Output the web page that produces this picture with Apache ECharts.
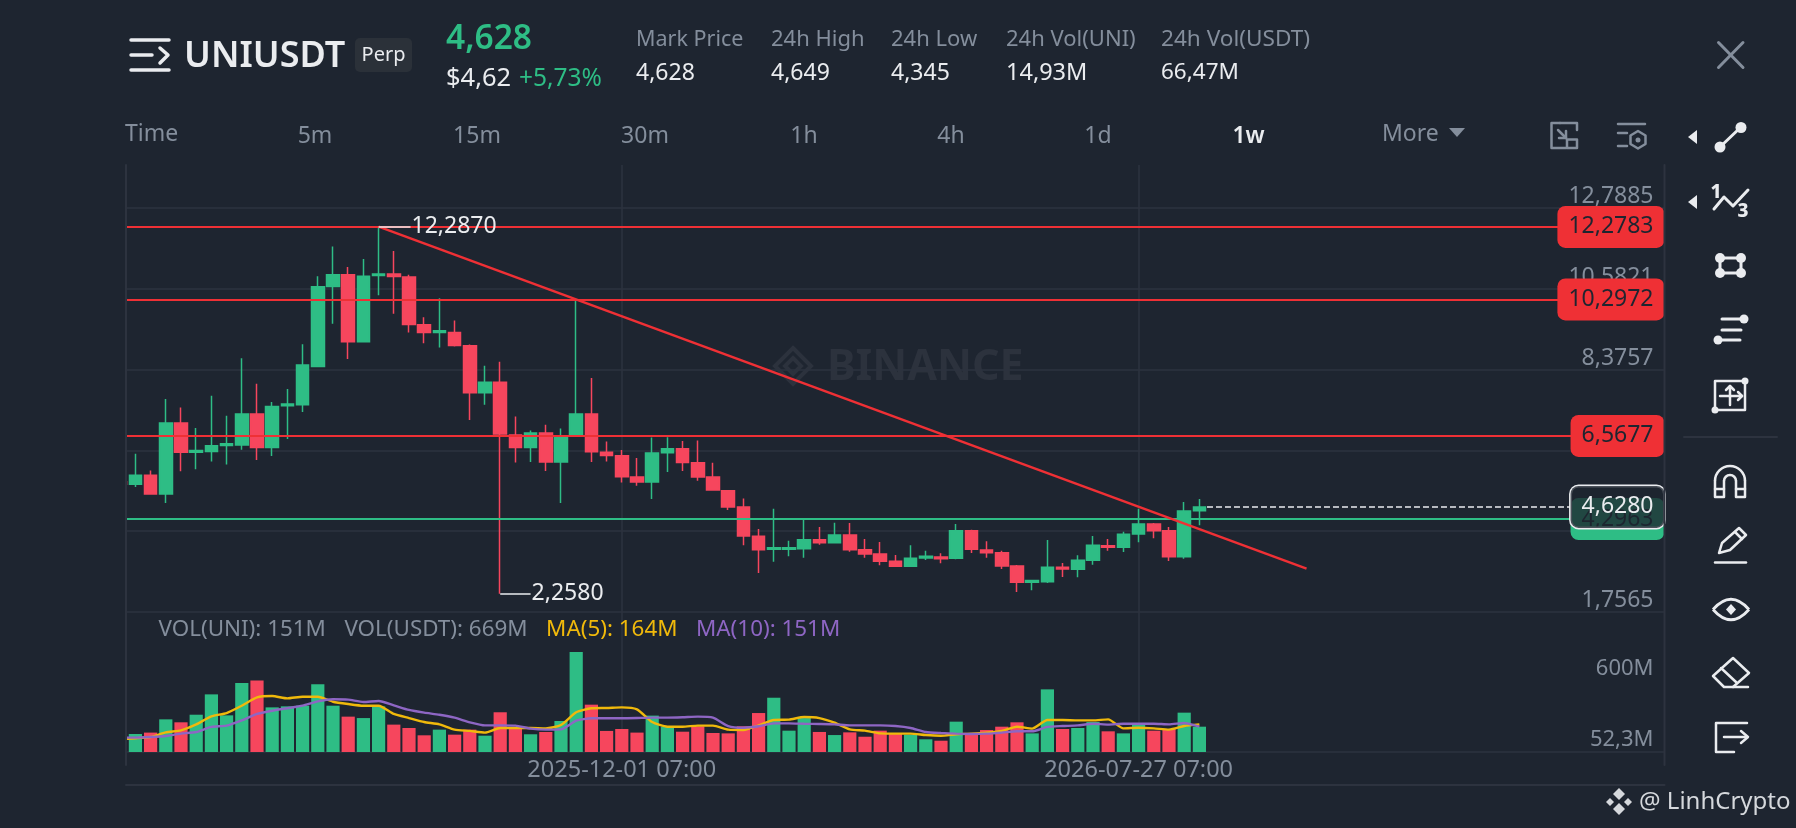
<!DOCTYPE html>
<html><head><meta charset="utf-8">
<script src="https://cdn.jsdelivr.net/npm/echarts@6/dist/echarts.min.js"></script>
<style>html,body{margin:0;padding:0;background:#1e2530;overflow:hidden}#c{width:1796px;height:828px}</style>
</head><body><div id="c"></div>
<script>
const FONT='"Noto Sans"';
const GREEN='#2ebd85', RED='#f6465d', LINE_RED='#ef3035', GRID='#2d333f', GRAY='#848e9c', WHITE='#eaecef', BG='#1e2530';

// Weekly candles, in order; weeks 33 and 67 are labelled on the axis
const opens=[5.317,5.245,5.490,4.980,6.919,6.118,6.145,6.309,6.318,7.164,6.254,7.392,7.419,8.466,10.649,10.968,9.139,10.949,10.995,10.913,9.603,9.393,9.393,9.030,7.747,8.037,6.590,6.254,6.645,5.853,6.581,7.164,6.118,6.027,5.444,5.307,6.108,6.217,5.835,5.444,5.071,4.625,3.824,3.469,3.469,3.487,3.733,3.651,3.861,3.460,3.342,3.141,3.005,3.232,3.260,3.223,3.979,3.451,3.378,3.014,2.568,2.586,2.978,2.923,3.169,3.569,3.524,3.888,4.161,3.979,3.269,4.525];
const closes=[5.245,5.490,4.980,6.919,6.118,6.172,6.300,6.355,7.164,6.254,7.374,7.437,8.502,10.640,10.968,9.139,10.931,10.995,10.922,9.612,9.393,9.439,9.039,7.747,8.037,6.618,6.254,6.645,5.853,6.536,7.164,6.136,6.036,5.453,5.307,6.099,6.217,5.844,5.444,5.089,4.625,3.833,3.460,3.515,3.515,3.733,3.651,3.861,3.460,3.342,3.141,3.005,3.223,3.278,3.214,3.979,3.469,3.378,3.014,2.568,2.614,2.978,2.932,3.169,3.578,3.524,3.879,4.161,3.979,3.269,4.516,4.628];
const lows=[5.245,5.172,4.962,4.735,5.599,5.654,5.872,5.790,6.191,5.908,6.018,6.482,7.219,8.466,9.630,8.666,9.120,10.413,9.903,9.393,9.102,8.984,9.012,7.000,7.419,2.258,5.844,5.853,5.608,4.734,6.581,5.853,5.872,5.298,5.207,4.843,5.580,5.608,5.344,5.071,4.543,3.578,2.823,3.132,3.278,3.242,3.596,3.651,3.405,3.242,3.032,2.996,2.996,3.178,3.087,3.196,3.369,3.242,2.932,2.304,2.350,2.550,2.714,2.705,3.050,3.433,3.396,3.660,3.769,3.151,3.214,4.124];
const highs=[5.317,6.082,5.626,7.574,7.346,6.782,7.665,7.119,8.693,7.992,7.492,7.847,9.075,10.931,11.741,11.186,11.404,12.287,11.623,10.968,9.812,10.331,9.721,9.066,8.484,8.592,7.100,6.718,6.873,6.772,10.285,8.147,6.417,6.181,5.963,6.527,6.530,6.430,6.444,5.835,5.089,4.861,4.024,4.579,3.706,4.288,4.079,4.197,4.188,3.751,3.669,3.314,3.578,3.433,3.360,4.161,4.006,3.687,3.433,3.041,2.614,3.724,3.096,3.305,3.833,3.751,3.951,4.579,4.188,4.079,4.761,4.843];

const volumes=[122,192,203,306,283,342,500,337,588,607,399,407,412,578,412,327,316,407,265,239,182,226,187,226,179,361,231,190,208,293,829,420,216,231,203,335,249,210,252,200,197,252,355,474,218,316,208,184,205,171,218,195,187,151,140,288,195,223,249,283,197,539,231,239,285,213,197,267,218,231,358,249];
const ma5=[153,159,169,205,221,267,329,355,412,477,487,469,482,482,443,425,412,412,348,316,285,267,226,216,203,239,239,239,236,262,361,392,394,399,384,285,249,249,257,257,226,223,259,301,304,324,316,280,228,218,197,195,195,184,179,190,195,203,216,249,234,301,301,298,298,306,236,241,236,226,254,267];
const ma10=[164,164,169,177,195,208,247,257,298,348,373,392,412,446,462,459,441,449,415,379,358,342,319,283,259,259,257,234,226,228,296,314,314,314,316,319,319,322,327,319,254,241,252,275,275,272,270,267,259,259,259,254,239,208,200,195,192,195,203,213,213,247,254,259,272,265,272,272,272,267,278,249];

const priceTicks=[1.7565,3.9629,6.1693,8.3757,10.5821,12.7885];
const volumeTicks=[52.3,600];
const volumeTickLabels=['52,3M','600M'];
const timeTicks=[33,67];
const timeTickLabels=['2025-12-01 07:00','2026-07-27 07:00'];

const redLevels=[12.2783,10.2972,6.5677];
const greenLevel=4.2963;
const lastPrice=4.628;
const peak={week:17,price:12.287,labelWeek:19.1};
const trough={week:25,price:2.258,labelWeek:27};
const trend=[[17,12.287],[78.05,2.942]];

const X_MIN=0.3816, X_MAX=101.6, Y_MIN=1.7565, Y_MAX=13.97, V_MIN=52.3, V_MAX=1140;
const comma=v=>v.toFixed(4).replace('.',',');
const candles=opens.map((o,i)=>[i,o,closes[i],lows[i],highs[i]]);
const barData=volumes.map((v,i)=>({value:[i,v],itemStyle:{color:closes[i]>=opens[i]?GREEN:RED}}));
const tag=(bg,color,extra)=>Object.assign({show:true,position:'insideEnd',distance:0,backgroundColor:bg,color,fontFamily:FONT,fontSize:23,lineHeight:22,padding:[11,11,9,11],borderRadius:8},extra||{});
const hLine=(p,color,text,bg)=>[{coord:[X_MIN,p],lineStyle:{color,width:2,type:'solid'},label:tag(bg,'#1e2530',{formatter:text})},{coord:[X_MAX,p]}];

// chrome helpers
const T=(x,y,text,size,fill,o)=>({type:'text',silent:true,z:o&&o.z!=null?o.z:5,style:{x,y,text,fill,font:`${o&&o.w||400} ${size}px ${FONT}`,textAlign:o&&o.a||'left',textVerticalAlign:'middle'}});
// small icon outlines: "M x y L x y ... [Z]" sub-paths become polylines / polygons
const P=(d,stroke,w,fill)=>{
  const out=[];
  d.split('M').filter(s=>s.trim()).forEach(sub=>{
    const closed=/Z/.test(sub);
    const toks=sub.replace('Z','').match(/[HVL]|-?[\d.]+/g);
    const pts=[];let i=0,cx,cy;
    cx=+toks[i++];cy=+toks[i++];pts.push([cx,cy]);
    while(i<toks.length){
      const t=toks[i];
      if(t==='H'){cx=+toks[i+1];i+=2;}
      else if(t==='V'){cy=+toks[i+1];i+=2;}
      else if(t==='L'){cx=+toks[i+1];cy=+toks[i+2];i+=3;}
      else {cx=+toks[i];cy=+toks[i+1];i+=2;}
      pts.push([cx,cy]);
    }
    out.push({type:closed?'polygon':'polyline',silent:true,z:12,shape:{points:pts},style:{stroke:stroke||'none',lineWidth:w||3,fill:fill||'none',lineCap:'round',lineJoin:'round'}});
  });
  return out;
};
const C=(x,y,r,fill)=>({type:'circle',silent:true,z:5,shape:{cx:x,cy:y,r},style:{fill:fill||WHITE}});
const R=(x,y,w,h,fill,r,z)=>({type:'rect',silent:true,z:z||1,shape:{x,y,width:w,height:h,r:r||0},style:{fill}});
const A=(cx,cy,r,a0,a1)=>({type:'arc',silent:true,z:5,shape:{cx,cy,r,startAngle:a0,endAngle:a1,clockwise:true},style:{stroke:WHITE,lineWidth:2.5,fill:'none'}});
const Q=(x1,y1,cx,cy,x2,y2)=>({type:'bezierCurve',silent:true,z:5,shape:{x1,y1,x2,y2,cpx1:cx,cpy1:cy},style:{stroke:WHITE,lineWidth:2.8,fill:'none'}});
const graphic=[
 // mask left of the plot: the first week starts just off-screen
 R(90,165,36,600,BG,0,10),
 // frame
 P('M126 165V765',GRID,2),P('M1664.5 165V765',GRID,2),P('M126 785H1664.5',GRID,2),P('M1684 437H1777',GRID,2),
 // watermark
 T(827,368,'BINANCE',43,'#2c323d',{w:700,z:0}),
 ...[[793,348,18],[793,358,8]].map(([x,y,s])=>({type:'polygon',silent:true,z:0,shape:{points:[[x,y],[x+s,y+s],[x,y+2*s],[x-s,y+s]]},style:{stroke:'#2c323d',lineWidth:4,fill:'none'}})),
 // header
 P('M131 40H169',WHITE,3.5),P('M131 70H169',WHITE,3.5),P('M131 55H152',WHITE,3.5),P('M160 48L168 55L160 63',WHITE,3.5),
 T(184,57,'UNIUSDT',36,WHITE,{w:600}),
 R(355,38,57,34,'#2b3139',5),T(383.5,55,'Perp',20,WHITE,{a:'center'}),
 T(446,39,'4,628',33.5,GREEN,{w:600}),
 T(446,79,'$4,62',25.5,WHITE),T(519,79,'+5,73%',24.5,GREEN),
 T(636,40,'Mark Price',21.5,GRAY),T(636,73,'4,628',23,WHITE),
 T(771,40,'24h High',22,GRAY),T(771,73,'4,649',23,WHITE),
 T(891,40,'24h Low',22,GRAY),T(891,73,'4,345',23,WHITE),
 T(1006,40,'24h Vol(UNI)',22,GRAY),T(1006,73,'14,93M',23.5,WHITE),
 T(1161,40,'24h Vol(USDT)',22.6,GRAY),T(1161,73,'66,47M',22.5,WHITE),
 P('M1718.5 42.5L1743 67.5',GRAY,3),P('M1743 42.5L1718.5 67.5',GRAY,3),
 // timeframes
 T(125,134,'Time',23,GRAY),T(315,136,'5m',23,GRAY,{a:'center'}),T(477,136,'15m',23,GRAY,{a:'center'}),T(645,136,'30m',23,GRAY,{a:'center'}),
 T(804,136,'1h',23,GRAY,{a:'center'}),T(951,136,'4h',23,GRAY,{a:'center'}),T(1098,136,'1d',23,GRAY,{a:'center'}),T(1248.5,136,'1w',23,WHITE,{a:'center',w:600}),
 T(1382,134,'More',23,GRAY),P('M1449 128H1465L1457 137Z',null,0,GRAY),
 P('M1560 123H1551.5V148H1566',GRAY,2.5),P('M1560 123H1577V130',GRAY,2.5),P('M1558 130L1566 138',GRAY,2.5),P('M1559 138H1566V131',GRAY,2.5),P('M1567 139.5H1577V148H1567Z',GRAY,2.5),
 P('M1618 124H1645',GRAY,2.5),P('M1618 133H1627',GRAY,2.5),P('M1618 146H1627',GRAY,2.5),P('M1638 131L1645.5 135.5V144L1638 148.5L1630.5 144V135.5Z',GRAY,2.5),C(1638,140,2.5,GRAY),
 // drawing tools
 P('M1697 130V144L1688 137Z',null,0,WHITE),P('M1697 195V209L1688 202Z',null,0,WHITE),
 P('M1720 147L1741 127',WHITE,3),C(1741,127.5,5.5),C(1720,147,5.5),
 P('M1714 209L1724 197L1733 206L1748 190',WHITE,3),T(1716,193,'1',19,WHITE,{w:800,a:'center'}),T(1743,212,'3',19,WHITE,{w:800,a:'center'}),
 P('M1720 258H1741',WHITE,3),P('M1720 273H1741',WHITE,3),P('M1720 258V273',WHITE,3),P('M1741 258V273',WHITE,3),C(1720,258,5),C(1741,258,5),C(1720,273,5),C(1741,273,5),
 P('M1722 319H1742',WHITE,3),P('M1722 330H1741',WHITE,3),P('M1718 340H1740',WHITE,3),C(1744,319,4.5),C(1718,340,4.5),
 P('M1715 381H1745V410H1715Z',WHITE,2.5),C(1745,381,3.5),C(1715,410,3.5),P('M1730 386V405',WHITE,2.5),P('M1720 396H1742',WHITE,2.5),P('M1726 390L1730 386L1734 390',WHITE,2.5),P('M1738 392L1742 396L1738 400',WHITE,2.5),
 A(1730,481,15,Math.PI,2*Math.PI),A(1730,481,6,Math.PI,2*Math.PI),P('M1715 481V497H1724V481',WHITE,2.5),P('M1736 481V497H1745V481',WHITE,2.5),P('M1715 489H1724',WHITE,2.5),P('M1736 489H1745',WHITE,2.5),
 P('M1715 562.5H1746',WHITE,2.5),P('M1719 553L1722 543L1739 528L1746 535L1730 550Z',WHITE,2.5),P('M1735 532L1742 539',WHITE,2.5),
 Q(1713,609.5,1731,589,1749,609.5),Q(1713,609.5,1731,630,1749,609.5),P('M1731 604L1736 609.5L1731 615L1726 609.5Z',null,0,WHITE),
 P('M1713 676L1733 658L1749 673L1733 687H1724Z',WHITE,2.5),P('M1721 668L1736 682',WHITE,2.5),P('M1733 687H1748',WHITE,2.5),
 P('M1747 723H1716V752H1734',WHITE,2.5),P('M1724 737H1747',WHITE,2.5),P('M1741 731L1748 737L1741 743',WHITE,2.5),
 // credit
 P('M1619 788L1625 794L1619 800L1613 794Z',null,0,'#d5d8dc'),P('M1619 803L1625 809L1619 815L1613 809Z',null,0,'#d5d8dc'),P('M1610 798L1614 802L1610 806L1606 802Z',null,0,'#d5d8dc'),P('M1628 798L1632 802L1628 806L1624 802Z',null,0,'#d5d8dc'),
 T(1639,802,'@ LinhCrypto',24,'#d5d8dc')
].flat();

const option={
 backgroundColor:BG,animation:false,graphic:{elements:graphic},
 grid:[{left:126,right:131.5,top:165,height:447},{left:126,right:131.5,top:612,height:140}],
 xAxis:[0,1].map(g=>({type:'value',gridIndex:g,min:X_MIN,max:X_MAX,
   axisLine:{show:false},axisTick:{show:false,customValues:timeTicks},
   splitLine:{show:true,lineStyle:{color:GRID,width:1.5}},
   axisLabel:g===1?{show:true,customValues:timeTicks,margin:6,color:GRAY,fontFamily:FONT,fontSize:23.5,lineHeight:24,formatter:v=>timeTickLabels[timeTicks.indexOf(v)]||'',showMinLabel:true,showMaxLabel:true}:{show:false,customValues:timeTicks}})),
 yAxis:[
  {type:'value',gridIndex:0,position:'right',min:Y_MIN,max:Y_MAX,axisLine:{show:false},axisTick:{show:false,customValues:priceTicks},
   splitLine:{show:true,lineStyle:{color:GRID,width:1.5}},
   axisLabel:{inside:true,margin:11,customValues:priceTicks,verticalAlign:'bottom',lineHeight:23,color:GRAY,fontFamily:FONT,fontSize:23,formatter:comma,align:'right'}},
  {type:'value',gridIndex:1,position:'right',min:V_MIN,max:V_MAX,axisLine:{show:false},axisTick:{show:false,customValues:[V_MIN]},
   splitLine:{show:true,lineStyle:{color:GRID,width:1.5}},
   axisLabel:{inside:true,margin:11,customValues:volumeTicks,verticalAlign:'bottom',lineHeight:25,color:GRAY,fontFamily:FONT,fontSize:22,align:'right',formatter:v=>volumeTickLabels[volumeTicks.indexOf(v)]||''}}
 ],
 legend:[{show:true,left:153.5,top:612,itemWidth:0,itemHeight:0,itemGap:13.5,icon:'none',selectedMode:false,padding:[7,0],
   textStyle:{fontFamily:FONT,fontSize:22.4,rich:{g:{color:GRAY,fontFamily:FONT,fontSize:22.4},y:{color:'#f0b90b',fontFamily:FONT,fontSize:22.4},p:{color:'#8e66c4',fontFamily:FONT,fontSize:22.4}}},
   data:['VOL(UNI): 151M','VOL(USDT): 669M','MA(5): 164M','MA(10): 151M'],
   formatter:n=>n.startsWith('MA(5)')?`{y|${n}}`:n.startsWith('MA(10)')?`{p|${n}}`:`{g|${n}}`}],
 series:[
  {type:'candlestick',name:'UNIUSDT',xAxisIndex:0,yAxisIndex:0,data:candles,barWidth:13.2,z:3,clip:true,
   itemStyle:{color:GREEN,color0:RED,borderColor:GREEN,borderColor0:RED,borderWidth:1.5},
   markLine:{silent:true,symbol:['none','none'],precision:4,animation:false,z:6,label:{show:false},
    data:[
     hLine(redLevels[0],LINE_RED,'12,2783',LINE_RED),
     hLine(redLevels[1],LINE_RED,'10,2972',LINE_RED),
     hLine(redLevels[2],LINE_RED,'6,5677',LINE_RED),
     hLine(greenLevel,GREEN,'4,2963',GREEN),
     [{coord:trend[0],lineStyle:{color:LINE_RED,width:2.5,type:'solid'},label:{show:false}},{coord:trend[1]}],
     [{coord:[peak.week,peak.price],lineStyle:{color:WHITE,width:1.5,type:'solid'},label:{show:true,position:'end',distance:1,padding:[4,0,0,0],color:WHITE,fontFamily:FONT,fontSize:23,formatter:'12,2870'}},{coord:[peak.labelWeek,peak.price]}],
     [{coord:[trough.week,trough.price],lineStyle:{color:WHITE,width:1.5,type:'solid'},label:{show:true,position:'end',distance:1,padding:[4,0,0,0],color:WHITE,fontFamily:FONT,fontSize:23,formatter:'2,2580'}},{coord:[trough.labelWeek,trough.price]}],
     [{coord:[71.5,lastPrice],lineStyle:{color:WHITE,width:1.5,type:'dashed'},label:tag('rgba(30,37,48,0.78)',WHITE,{formatter:'4,6280',borderColor:WHITE,borderWidth:1.5})},{coord:[X_MAX,lastPrice]}]
    ]}},
  {type:'bar',name:'VOL(UNI): 151M',xAxisIndex:1,yAxisIndex:1,data:barData,barWidth:13.2,z:2,clip:true,itemStyle:{color:GREEN}},
  {type:'line',name:'VOL(USDT): 669M',xAxisIndex:1,yAxisIndex:1,data:[],itemStyle:{color:'transparent'}},
  {type:'line',name:'MA(5): 164M',xAxisIndex:1,yAxisIndex:1,data:ma5.map((v,i)=>[i,v]),showSymbol:false,symbol:'none',smooth:0.2,lineStyle:{color:'#f0b90b',width:2.4},itemStyle:{color:'#f0b90b'},z:3},
  {type:'line',name:'MA(10): 151M',xAxisIndex:1,yAxisIndex:1,data:ma10.map((v,i)=>[i,v]),showSymbol:false,symbol:'none',smooth:0.2,lineStyle:{color:'#8e66c4',width:2.4},itemStyle:{color:'#8e66c4'},z:4}
 ]
};
echarts.init(document.getElementById('c'),null,{renderer:'canvas',width:1796,height:828}).setOption(option);
</script></body></html>
